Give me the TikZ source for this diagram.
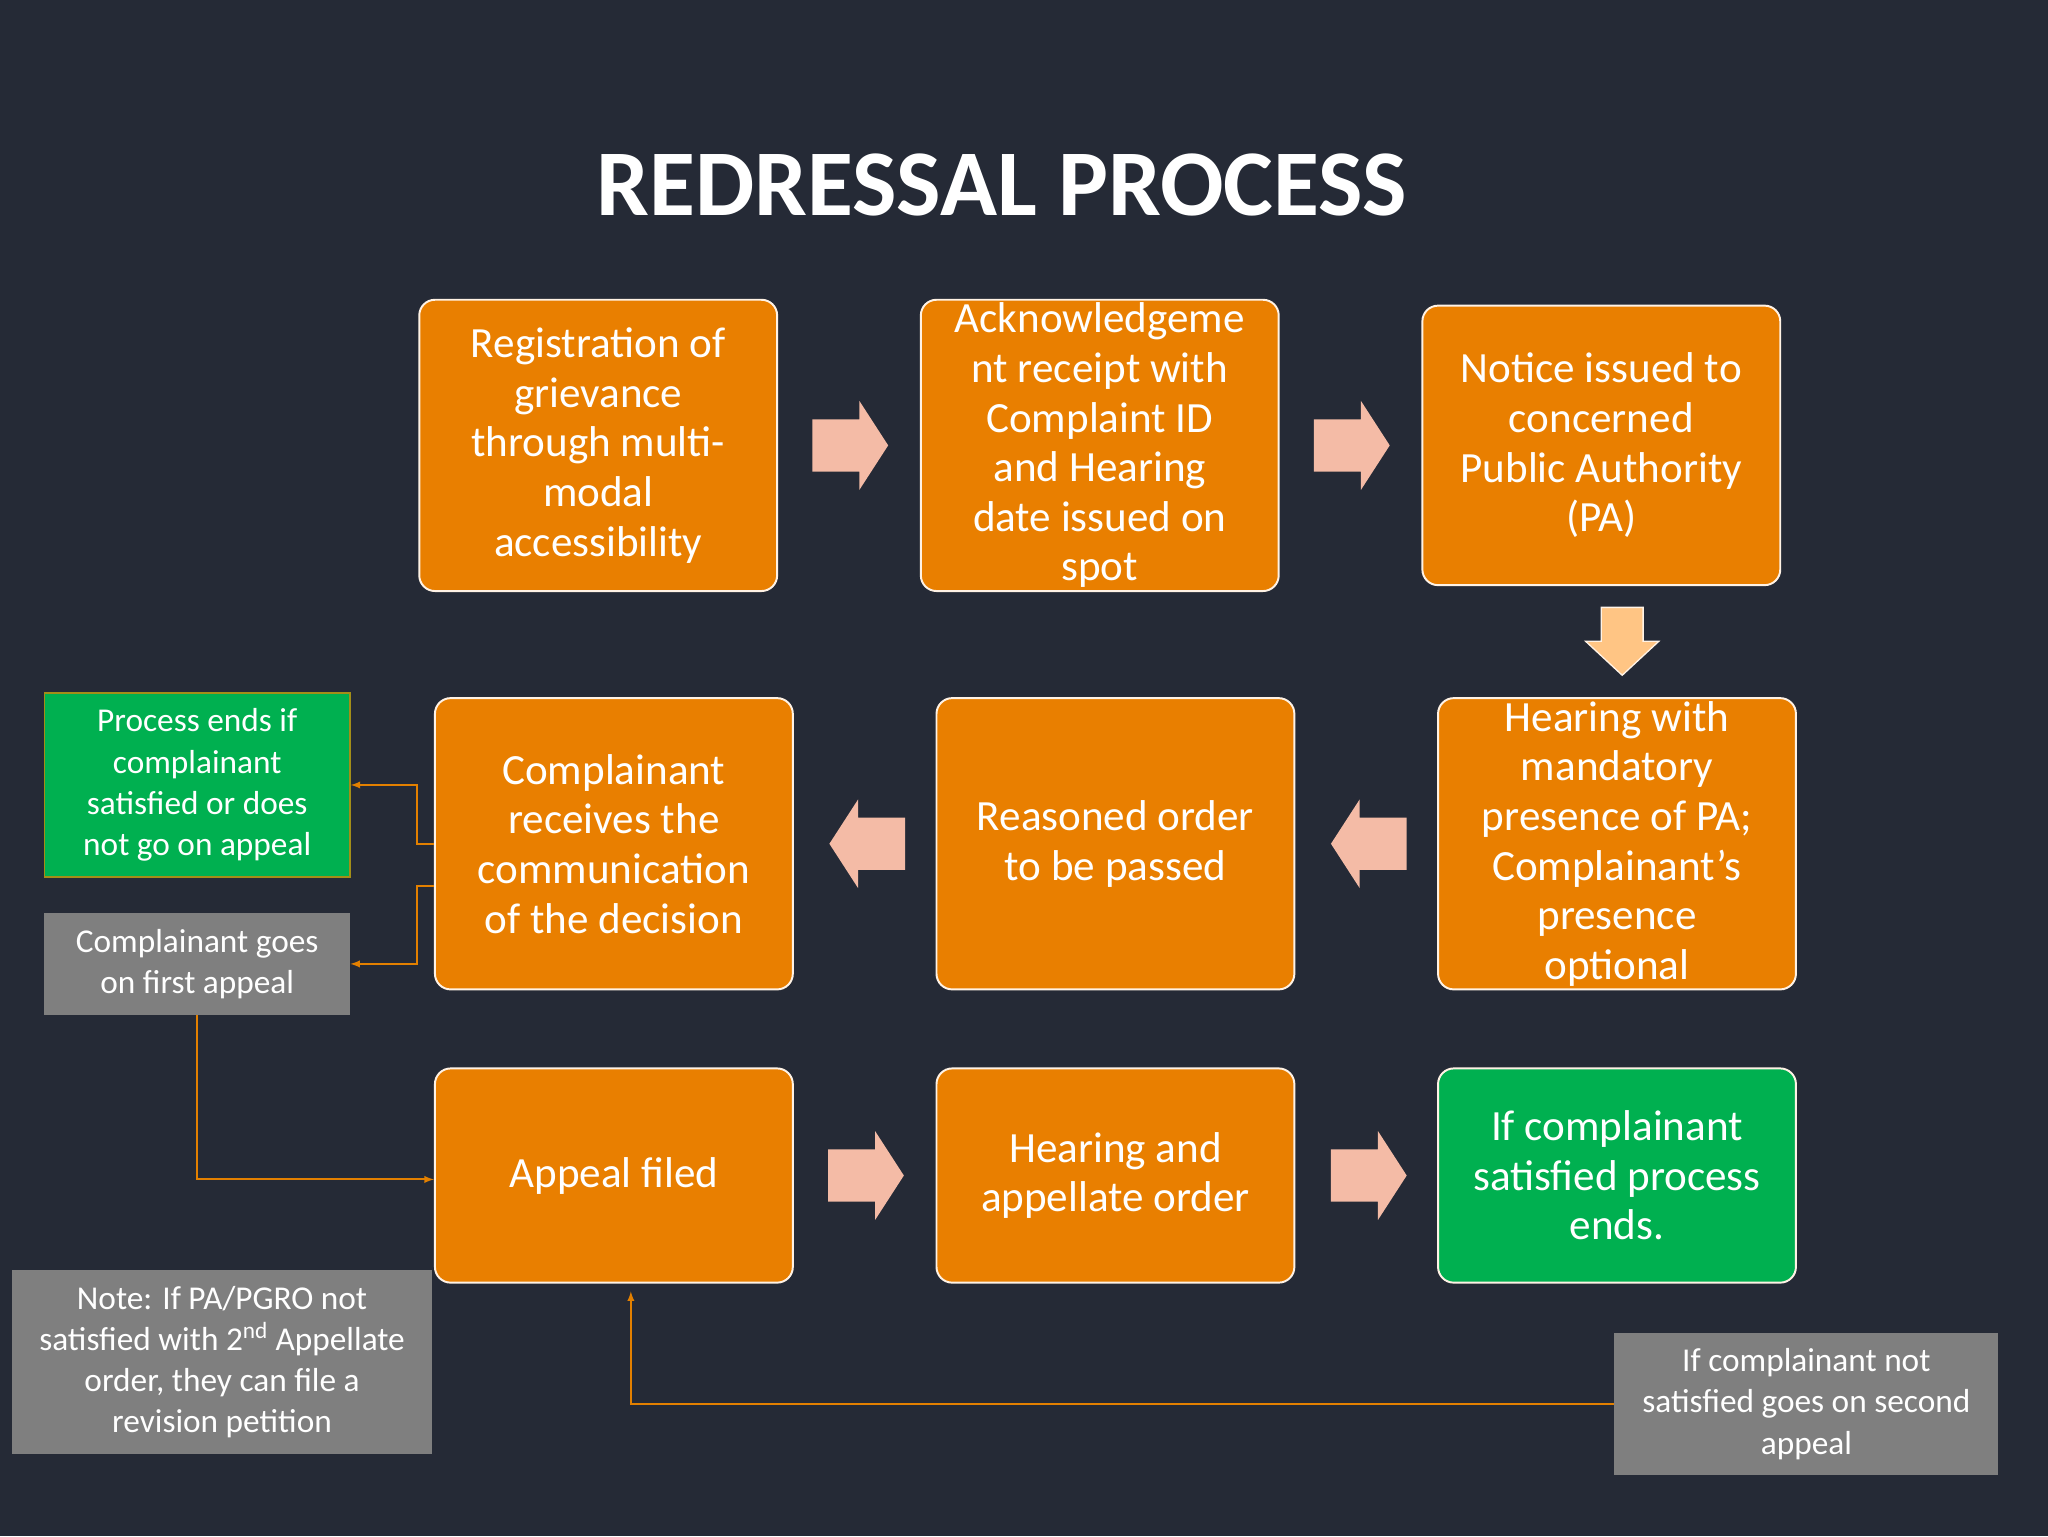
\documentclass[tikz,border=0pt]{standalone}
\usepackage{fontspec}
\setmainfont{Carlito}
\definecolor{bg}{HTML}{252A36}
\definecolor{org}{HTML}{E97F00}
\definecolor{grn}{HTML}{00B050}
\definecolor{gry}{HTML}{7F7F7F}
\definecolor{salm}{HTML}{F4BBA6}
\definecolor{peach}{HTML}{FFC584}
\definecolor{lnk}{HTML}{E38000}
\begin{document}
\begin{tikzpicture}[x=1pt,y=-1pt,
 box/.style={draw=white!90!orange,line width=1.5pt,rounded corners=12pt,fill=org,text=white,
   minimum width=274pt,align=center,font=\fontsize{33}{38}\selectfont,inner sep=0pt},
 note/.style={fill=#1,text=white,align=center,font=\fontsize{25.5}{31.5}\selectfont,inner sep=0pt},
 barrow/.pic={\fill[salm] (-29,-20) -- (7,-20) -- (7,-34) -- (29,0) -- (7,34) -- (7,20) -- (-29,20) -- cycle;},
 darrow/.pic={\filldraw[fill=peach,draw=white!80!peach,line width=1pt] (-16,-26) -- (16,-26) -- (16,0) -- (28,0) -- (0,26) -- (-28,0) -- (-16,0) -- cycle;},
 lk/.style={draw=lnk,line width=1.5pt,-latex}]
\fill[bg] (0,0) rectangle (1568,1176);
\useasboundingbox (0,0) rectangle (1568,1176);
\node[font=\fontsize{72}{80}\selectfont\bfseries,text=white] (t) at (767,142) {REDRESSAL PROCESS};
\node[box,minimum height=223pt] (a) at (458,341) {Registration of\\grievance\\through multi-\\modal\\accessibility};
\node[box,minimum height=223pt] (b) at (842,341) {Acknowledgeme\\nt receipt with\\Complaint ID\\and Hearing\\date issued on\\spot};
\node[box,minimum height=214pt] (c) at (1226,341) {Notice issued to\\concerned\\Public Authority\\(PA)};
\node[box,minimum height=223pt] (d) at (470,646) {Complainant\\receives the\\communication\\of the decision};
\node[box,minimum height=223pt] (e) at (854,646) {Reasoned order\\to be passed};
\node[box,minimum height=223pt] (f) at (1238,646) {Hearing with\\mandatory\\presence of PA;\\Complainant’s\\presence\\optional};
\node[box,minimum height=164pt] (g) at (470,900) {Appeal filed};
\node[box,minimum height=164pt] (h) at (854,900) {Hearing and\\appellate order};
\node[box,minimum height=164pt,fill=grn] (i) at (1238,900) {If complainant\\satisfied process\\ends.};
\node[note=grn,draw=org!70!grn,line width=1pt,minimum width=234pt,minimum height=141pt] (n1) at (151,601) {Process ends if\\complainant\\satisfied or does\\not go on appeal};
\node[note=gry,minimum width=234pt,minimum height=78pt] (n2) at (151,738) {Complainant goes\\on first appeal};
\node[note=gry,minimum width=321pt,minimum height=141pt] (n3) at (170,1043) {Note: If PA/PGRO not\\satisfied with 2\textsuperscript{nd} Appellate\\order, they can file a\\revision petition};
\node[note=gry,minimum width=294pt,minimum height=109pt] (n4) at (1383,1075) {If complainant not\\satisfied goes on second\\appeal};
\pic at (651,341) {barrow};
\pic at (1035,341) {barrow};
\pic at (1242,491) {darrow};
\pic[rotate=180] at (664,646) {barrow};
\pic[rotate=180] at (1048,646) {barrow};
\pic at (663,900) {barrow};
\pic at (1048,900) {barrow};
\draw[lk] (d.west) -- ++(-13,0) |- (n1.east);
\draw[lk] ([yshift=-32pt]d.west) -- ++(-13,0) |- (n2.east);
\draw[lk] (n2.south) |- ([yshift=-3pt]g.west);
\draw[lk] (n4.west) -| ([xshift=13pt,yshift=-6pt]g.south);
\end{tikzpicture}
\end{document}
